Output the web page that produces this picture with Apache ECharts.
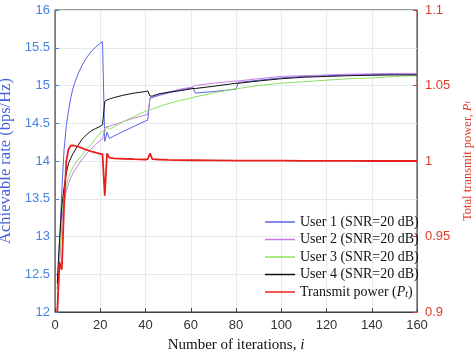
<!DOCTYPE html>
<html>
<head>
<meta charset="utf-8">
<script src="https://cdn.jsdelivr.net/npm/echarts@6/dist/echarts.min.js"></script>
<style>
html,body{margin:0;padding:0;background:#fff;}
#chart{width:474px;height:355px;}
</style>
</head>
<body>
<div id="chart"></div>
<script>
const iterations = [1,2,3,4,5,6,7,8,10,12,14,16,18,20,21,22,23,24,26,30,35,40,41,42,43,46,50,55,61,62,70,80,81,90,100,110,120,130,140,150,160];

const user1 = [12.3,12.9,13.6,14.15,14.47,14.67,14.84,14.97,15.14,15.27,15.37,15.45,15.51,15.56,15.58,14.26,14.38,14.30,14.33,14.39,14.46,14.53,14.54,14.83,14.84,14.87,14.90,14.94,14.97,14.90,14.92,14.95,15.04,15.07,15.10,15.12,15.13,15.14,15.145,15.15,15.15];
const user2 = [12.0,12.6,13.2,13.45,13.6,13.7,13.78,13.84,13.94,14.02,14.10,14.16,14.22,14.27,14.29,14.44,14.45,14.46,14.48,14.52,14.57,14.61,14.62,14.84,14.85,14.88,14.91,14.95,14.98,15.0,15.03,15.06,15.06,15.09,15.12,15.13,15.14,15.15,15.155,15.16,15.16];
const user3 = [12.03,12.7,13.3,13.55,13.68,13.78,13.86,13.92,14.01,14.08,14.16,14.22,14.30,14.37,14.40,14.38,14.46,14.42,14.45,14.52,14.59,14.66,14.67,14.68,14.69,14.72,14.76,14.80,14.84,14.85,14.90,14.96,14.96,15.0,15.03,15.05,15.07,15.09,15.10,15.12,15.13];
const user4 = [12.38,12.95,13.4,13.65,13.84,13.97,14.04,14.10,14.20,14.29,14.35,14.40,14.43,14.46,14.48,14.79,14.81,14.82,14.84,14.87,14.90,14.92,14.93,14.86,14.86,14.89,14.91,14.93,14.96,14.96,14.99,15.03,15.03,15.06,15.09,15.11,15.12,15.13,15.135,15.14,15.14];
const power = [0.9,0.933,0.928,0.97,1.0,1.008,1.0102,1.0104,1.0096,1.0085,1.0073,1.0063,1.0055,1.0048,1.0045,0.977,1.005,1.0022,1.0018,1.0015,1.0012,1.001,1.0012,1.005,1.0012,1.001,1.0008,1.0006,1.0005,1.0005,1.0004,1.0003,1.0003,1.0002,1.0002,1.0001,1.0001,1.0001,1.0,1.0,1.0];

const seriesNames = ['User 1 (SNR=20 dB)','User 2 (SNR=20 dB)','User 3 (SNR=20 dB)','User 4 (SNR=20 dB)','Transmit power ({it|P}{sub|t})'];
const xTicks = [0,20,40,60,80,100,120,140,160];

const pair = arr => iterations.map((x,k)=>[x,arr[k]]);
const leftColor = '#4683e0';
const rightColor = '#e03a28';
const serif = 'Liberation Serif';
const sans = 'Liberation Sans';

const chart = echarts.init(document.getElementById('chart'), null, {renderer:'canvas'});
function userSeries(name, data, color){
  return {name, type:'line', data:pair(data), yAxisIndex:0, symbol:'none', showSymbol:false,
    lineStyle:{color, width:1}, itemStyle:{color}, z:2};
}
chart.setOption({
  animation:false,
  backgroundColor:'#fff',
  grid:{left:55, right:57, top:10, bottom:43, show:true, borderColor:'#333', borderWidth:1,
    containLabel:false, outerBoundsMode:'none'},
  legend:{
    orient:'vertical', left:260, top:210, icon:'rect', itemWidth:30, itemHeight:1.5, itemGap:3.5,
    itemStyle:{borderWidth:0},
    textStyle:{fontFamily:serif, fontSize:14, color:'#111', lineHeight:14, height:14,
      rich:{it:{fontFamily:serif, fontStyle:'italic', fontSize:14, color:'#111'}, sub:{fontFamily:serif, fontStyle:'italic', fontSize:10, color:'#111', padding:[5,0,0,0]}}},
    data:seriesNames.map(n=>({name:n}))
  },
  xAxis:{type:'value', min:0, max:160, interval:20,
    name:'Number of iterations, {it|i}', nameLocation:'middle', nameGap:26,
    nameTextStyle:{fontFamily:serif, fontSize:15, color:'#111', rich:{it:{fontFamily:serif, fontStyle:'italic', fontSize:15, color:'#111'}}},
    axisLine:{onZero:false, lineStyle:{color:'#404040', width:1}},
    axisTick:{inside:true, length:4, lineStyle:{color:'#404040'}},
    axisLabel:{fontFamily:sans, fontSize:13, color:'#333', margin:7, formatter:v=>xTicks.includes(v)?String(v):''},
    splitLine:{show:true, lineStyle:{color:'#e6e9ed', width:1}}
  },
  yAxis:[
    {type:'value', min:12, max:16, interval:0.5, position:'left',
      name:'Achievable rate (bps/Hz)', nameLocation:'middle', nameGap:31, nameRotate:90,
      nameTextStyle:{fontFamily:serif, fontSize:16.5, color:'#4560d8'},
      axisLine:{show:true, lineStyle:{color:leftColor, width:1}},
      axisTick:{show:true, inside:true, length:4, lineStyle:{color:leftColor}},
      axisLabel:{fontFamily:sans, fontSize:13, color:leftColor, margin:5},
      splitLine:{show:true, lineStyle:{color:'#e6e9ed', width:1}}
    },
    {type:'value', min:0.9, max:1.1, interval:0.05, position:'right',
      name:'Total transmit power, {it|P}{sub|t}', nameLocation:'middle', nameGap:40, nameRotate:90,
      nameTextStyle:{fontFamily:serif, fontSize:12.5, color:rightColor,
        rich:{it:{fontFamily:serif, fontStyle:'italic', fontSize:12.5, color:rightColor}, sub:{fontFamily:serif, fontStyle:'italic', fontSize:9, color:rightColor}}},
      axisLine:{show:true, lineStyle:{color:rightColor, width:1}},
      axisTick:{show:true, inside:true, length:4, lineStyle:{color:rightColor}},
      axisLabel:{fontFamily:sans, fontSize:13, color:rightColor, margin:8, formatter:v=>String(+v.toFixed(2))},
      splitLine:{show:false}
    }
  ],
  series:[
    userSeries(seriesNames[0], user1, '#5a64e6'),
    userSeries(seriesNames[1], user2, '#c77ae8'),
    userSeries(seriesNames[2], user3, '#8fe060'),
    userSeries(seriesNames[3], user4, '#111111'),
    {name:seriesNames[4], type:'line', data:pair(power), yAxisIndex:1, symbol:'none', showSymbol:false,
      lineStyle:{color:'#e8201c', width:1.8}, itemStyle:{color:'#e8201c'}, z:3}
  ]
});
</script>
</body>
</html>
